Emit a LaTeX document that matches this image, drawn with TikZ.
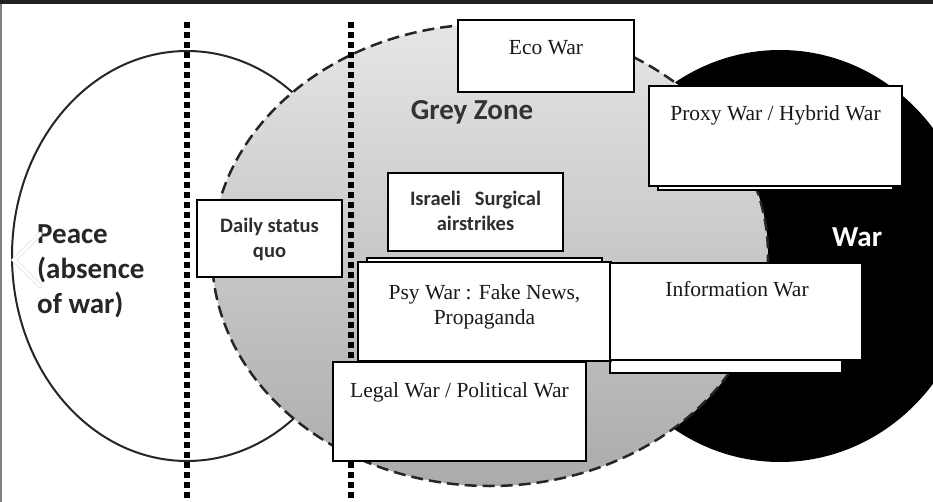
\documentclass[tikz,border=0pt]{standalone}
\usepackage{fontspec}
\setmainfont{Liberation Serif}
\newfontfamily\carlfont{Carlito}
\begin{document}
\begin{tikzpicture}[x=1pt,y=-1pt,
  box/.style={draw=black, line width=2.4pt, fill=white, inner sep=0pt},
  backbox/.style={draw=black, line width=1.3pt, fill=white},
  boxtext/.style={font=\fontsize{21.5}{25}\selectfont, align=center, text=black!90, inner sep=0pt},
  sanstext/.style={font=\carlfont\bfseries\fontsize{20.5}{25}\selectfont, align=center, text=black!82, inner sep=0pt},
  bigtext/.style={font=\carlfont\bfseries\fontsize{29}{35}\selectfont, inner sep=0pt},
  dots/.style={line width=5.5pt, dash pattern=on 6pt off 4pt, black}]
\useasboundingbox (0,0) rectangle (933,502);
\begin{scope}
\clip (0,0) rectangle (933,502);
\fill[white] (0,0) rectangle (933,502);
% Peace ellipse
\draw[line width=2pt, draw=black!85, fill=white] (187,256) ellipse [x radius=175, y radius=205];
% War ellipse
\fill[black] (780,256) ellipse [x radius=195, y radius=206];
% Grey zone ellipse
\shade[top color=black!10, bottom color=black!33] (490,255) ellipse [x radius=278, y radius=231];
\draw[line width=2.5pt, dash pattern=on 12pt off 6pt, black!85] (490,255) ellipse [x radius=278, y radius=231];
% dotted separators
\coordinate (d1t) at (187,22); \coordinate (d1b) at (187,505);
\coordinate (d2t) at (351,22); \coordinate (d2b) at (351,505);
\draw[dots] (d1t) -- (d1b);
\draw[dots] (d2t) -- (d2b);
% back boxes
\node[backbox, minimum width=235pt, minimum height=90pt] (proxyback) at (775.5,145) {};
\node[backbox, minimum width=232pt, minimum height=70pt] (infoback) at (726,338) {};
\node[backbox, minimum width=235pt, minimum height=50pt] (psyback) at (484.5,283) {};
% boxes
\node[box, minimum width=176pt, minimum height=72pt] (eco) at (546,56) {};
\node[box, minimum width=253pt, minimum height=100pt] (proxy) at (775.5,136) {};
\node[box, minimum width=175pt, minimum height=78pt] (israeli) at (475.5,212) {};
\node[box, minimum width=145pt, minimum height=77pt] (daily) at (269.5,238.5) {};
\node[box, minimum width=253pt, minimum height=99pt] (psy) at (484.5,311.5) {};
\node[box, minimum width=253pt, minimum height=99pt] (legal) at (459.5,411.5) {};
\node[box, minimum width=252pt, minimum height=97pt] (info) at (736,311.5) {};
% box texts (anchor base = baseline of the last line)
\node[boxtext, anchor=base] (ecot) at (546,55) {Eco War};
\node[boxtext, anchor=base] (proxyt) at (775.5,121) {Proxy War / Hybrid War};
\node[boxtext, anchor=base] (psyt) at (484.5,324) {Psy War : Fake News,\\Propaganda};
\node[boxtext, anchor=base] (infot) at (737,297) {Information War};
\node[boxtext, anchor=base] (legalt) at (459.5,397) {Legal War / Political War};
\node[sanstext, anchor=base] (israelit) at (475.5,231) {Israeli\ \ \ Surgical\\airstrikes};
\node[sanstext, anchor=base] (dailyt) at (269.5,258) {Daily status\\quo};
% region labels
\node[bigtext, text=black!85, anchor=base west, align=left] (peace) at (37,313) {Peace\\(absence\\of war)};
\node[bigtext, text=black!80, anchor=base] (grey) at (472,120) {Grey Zone};
\node[bigtext, text=white, anchor=base west] (war) at (832,247) {War};
% screenshot frame
\fill[black!87] (0,0) rectangle (933,4);
\fill[black!50] (0,4) rectangle (1.5,502);
\draw[black!12, line width=4.5pt, line cap=round] (40,234) -- (14,260) -- (40,286);
\draw[white, line width=3pt, line cap=round] (40,234) -- (14,260) -- (40,286);
\end{scope}
\end{tikzpicture}
\end{document}
